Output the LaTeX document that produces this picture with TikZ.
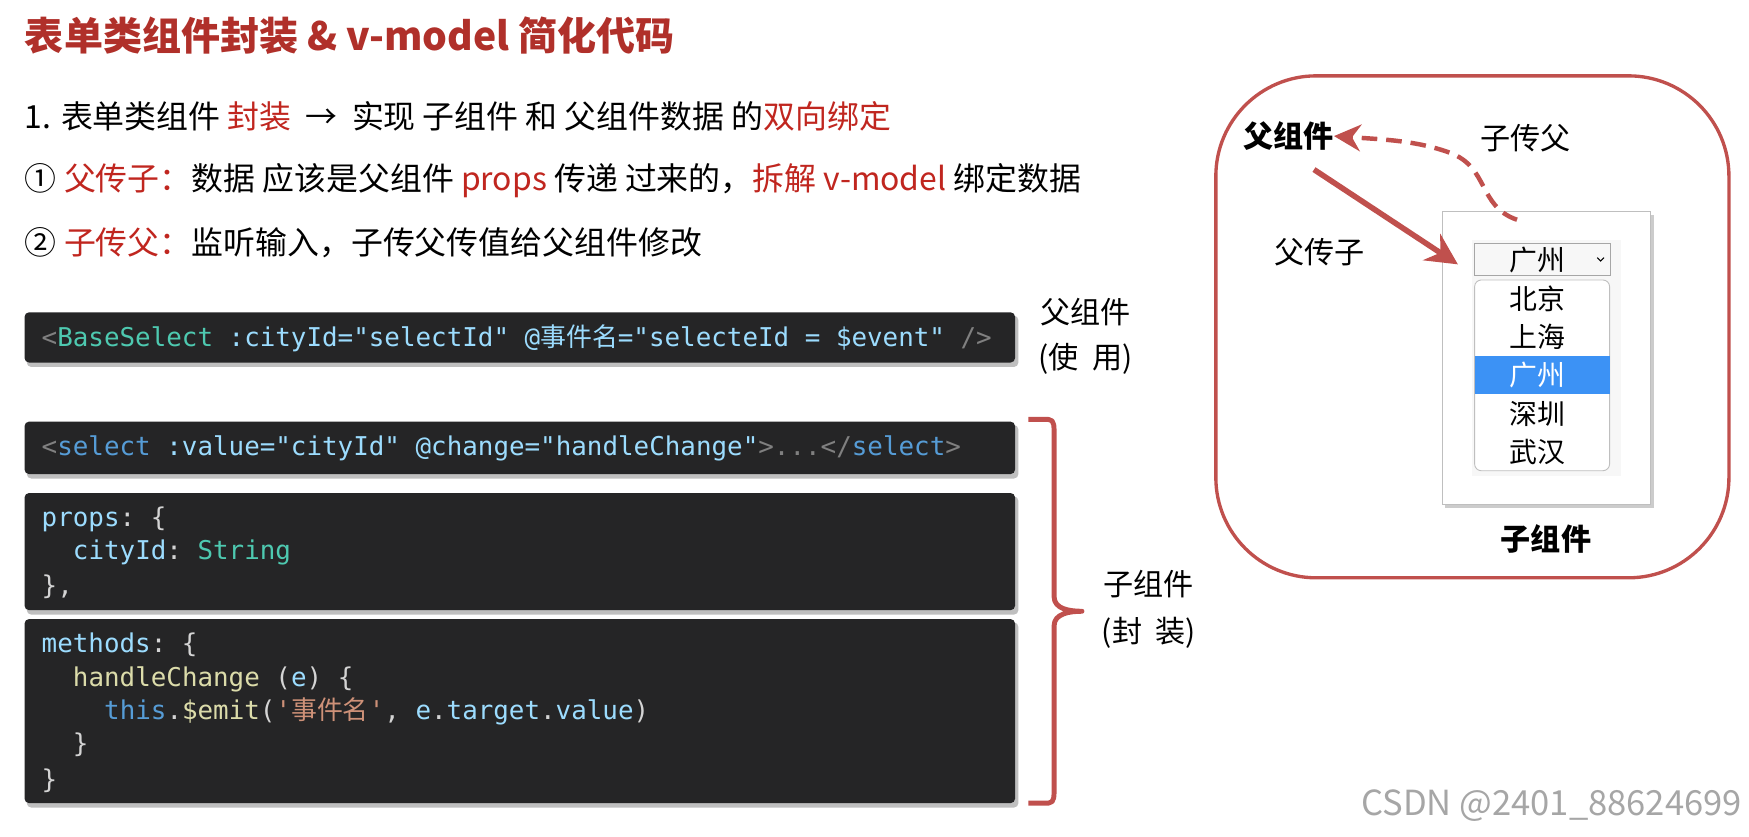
\documentclass[tikz,border=0pt]{standalone}
\usepackage{fontspec}
\setmainfont{Noto Sans CJK SC}
\setmonofont{DejaVu Sans Mono}
\newfontfamily\cjk{Noto Sans CJK SC}
\usetikzlibrary{arrows.meta}
\definecolor{myred}{HTML}{C0261F}
\definecolor{ttl}{HTML}{B0302A}
\definecolor{frame}{HTML}{C0504D}
\definecolor{codebg}{HTML}{252526}
\definecolor{ctag}{HTML}{4EC9B0}
\definecolor{catt}{HTML}{9CDCFE}
\definecolor{cgr}{HTML}{808080}
\definecolor{cfn}{HTML}{DCDCAA}
\definecolor{ckw}{HTML}{569CD6}
\definecolor{cstr}{HTML}{CE9178}
\definecolor{ctxt}{HTML}{D4D4D4}
\definecolor{selblue}{HTML}{3C92F5}
\tikzset{
  txt/.style={anchor=west,inner sep=0pt,font=\fontsize{14.3}{17}\selectfont},
  cl/.style={anchor=west,inner sep=0pt,font=\ttfamily\fontsize{11.6}{14}\selectfont,text=ctxt},
  codebox/.style={fill=codebg,rounded corners=2pt},
  shad/.style={fill=black!25,rounded corners=2pt},
  lab/.style={inner sep=0pt,font=\fontsize{13.5}{16}\selectfont},
  item/.style={inner sep=0pt,font=\fontsize{12.5}{15}\selectfont},
}
\begin{document}
\begin{tikzpicture}[x=0.5pt,y=-0.5pt]
\useasboundingbox (0,0) rectangle (1568,750);
% title and text
\node[txt,font=\bfseries\fontsize{17.5}{21}\selectfont,text=ttl] (title) at (22,32) {表单类组件封装 \& v-model 简化代码};
\node[txt] (l1) at (22,104) {1. 表单类组件 \textcolor{myred}{封装} \ → \ 实现 子组件 和 父组件数据 的\textcolor{myred}{双向绑定}};
\node[txt] (l2) at (22,162) {① \textcolor{myred}{父传子：}数据 应该是父组件 \textcolor{myred}{props} 传递 过来的，\textcolor{myred}{拆解 v-model} 绑定数据};
\node[txt] (l3) at (22,218) {② \textcolor{myred}{子传父：}监听输入，子传父传值给父组件修改};
% code boxes
\foreach \a/\b in {280/325,378/425,442/547,555/720}{
  \fill[shad] (24,\a+3) rectangle (913,\b+4);
  \fill[codebox] (22,\a) rectangle (910,\b);
}
\node[cl] (c1) at (37,303) {\textcolor{cgr}{<}\textcolor{ctag}{BaseSelect} \textcolor{catt}{:cityId="selectId" @{\cjk 事件名}="selecteId = \$event"} \textcolor{cgr}{/>}};
\node[cl] (c2) at (37,402) {\textcolor{cgr}{<}\textcolor{ckw}{select} \textcolor{catt}{:value="cityId" @change="handleChange"}\textcolor{cgr}{>...</}\textcolor{ckw}{select}\textcolor{cgr}{>}};
\node[cl] (c3a) at (37,466) {\textcolor{catt}{props}: \{};
\node[cl] (c3b) at (65,495) {\textcolor{catt}{cityId}: \textcolor{ctag}{String}};
\node[cl] (c3c) at (37,526) {\},};
\node[cl] (c4a) at (37,578) {\textcolor{catt}{methods}: \{};
\node[cl] (c4b) at (65,609) {\textcolor{cfn}{handleChange} (\textcolor{catt}{e}) \{};
\node[cl] (c4c) at (93,638) {\textcolor{ckw}{this}.\textcolor{cfn}{\$emit}(\textcolor{cstr}{'{\cjk 事件名}'}, \textcolor{catt}{e}.\textcolor{catt}{target}.\textcolor{catt}{value})};
\node[cl] (c4d) at (65,668) {\}};
\node[cl] (c4e) at (37,700) {\}};
% labels
\node[lab] (fz) at (973,280) {父组件};
\node[lab] (fzu) at (973,322) {(使\ \ 用)};
\node[lab] (zz) at (1030,524) {子组件};
\node[lab] (zzf) at (1030,567) {(封\ \ 装)};
\draw[frame,line width=2.2pt,line join=round] (922,376) -- (940,376) to[out=0,in=90] (945,390) -- (945,535) to[out=-90,in=180] (970,548) to[out=180,in=90] (945,561) -- (945,706) to[out=-90,in=0] (940,720) -- (922,720);
% right panel
\draw[frame,line width=1.5pt,rounded corners=45] (1090,68) rectangle (1550,518);
\node[lab,font=\bfseries\fontsize{13.5}{16}\selectfont] (pc) at (1155,122) {父组件};
\node[lab] (zcf) at (1368,124) {子传父};
\node[lab] (fcz) at (1183,226) {父传子};
\fill[black!20] (1295,193) rectangle (1483,455);
\fill[white] (1293,190) rectangle (1480,452);
\draw[gray!50,line width=0.4pt] (1293,190) rectangle (1480,452);
\fill[gray!6] (1320,215) rectangle (1453,427);
\draw[gray!70] (1322,218) rectangle (1444,247);
\node[item] (sel) at (1378,233) {广州};
\draw[black,line width=0.5pt] (1432,231) -- (1435,234) -- (1438,231);
\draw[gray!50,fill=white,rounded corners=3pt] (1322,251) rectangle (1443,422);
\fill[selblue] (1322,319) rectangle (1443,353);
\node[item] (i1) at (1378,268) {北京};
\node[item] (i2) at (1378,302) {上海};
\node[item,text=white] (i3) at (1378,336) {广州};
\node[item] (i4) at (1378,371) {深圳};
\node[item] (i5) at (1378,405) {武汉};
\node[lab,font=\bfseries\fontsize{13.5}{16}\selectfont] (zc) at (1386,483) {子组件};
\coordinate (dstart) at (1360,197);
\draw[frame,line width=2.5pt,-{Stealth[length=14pt,width=14pt]}] (1178,152) -- (1307,237);
\draw[frame,line width=2pt,dashed,dash pattern=on 7pt off 4pt,-{Stealth[length=12pt,width=12pt]}] (dstart) .. controls (1325,185) and (1335,150) .. (1300,137) .. controls (1270,126) and (1240,125) .. (pc.east);
\node[lab,font=\fontsize{15.5}{18}\selectfont,text=gray!70,anchor=east] (wm) at (1562,722) {CSDN @2401\_88624699};
\end{tikzpicture}
\end{document}
